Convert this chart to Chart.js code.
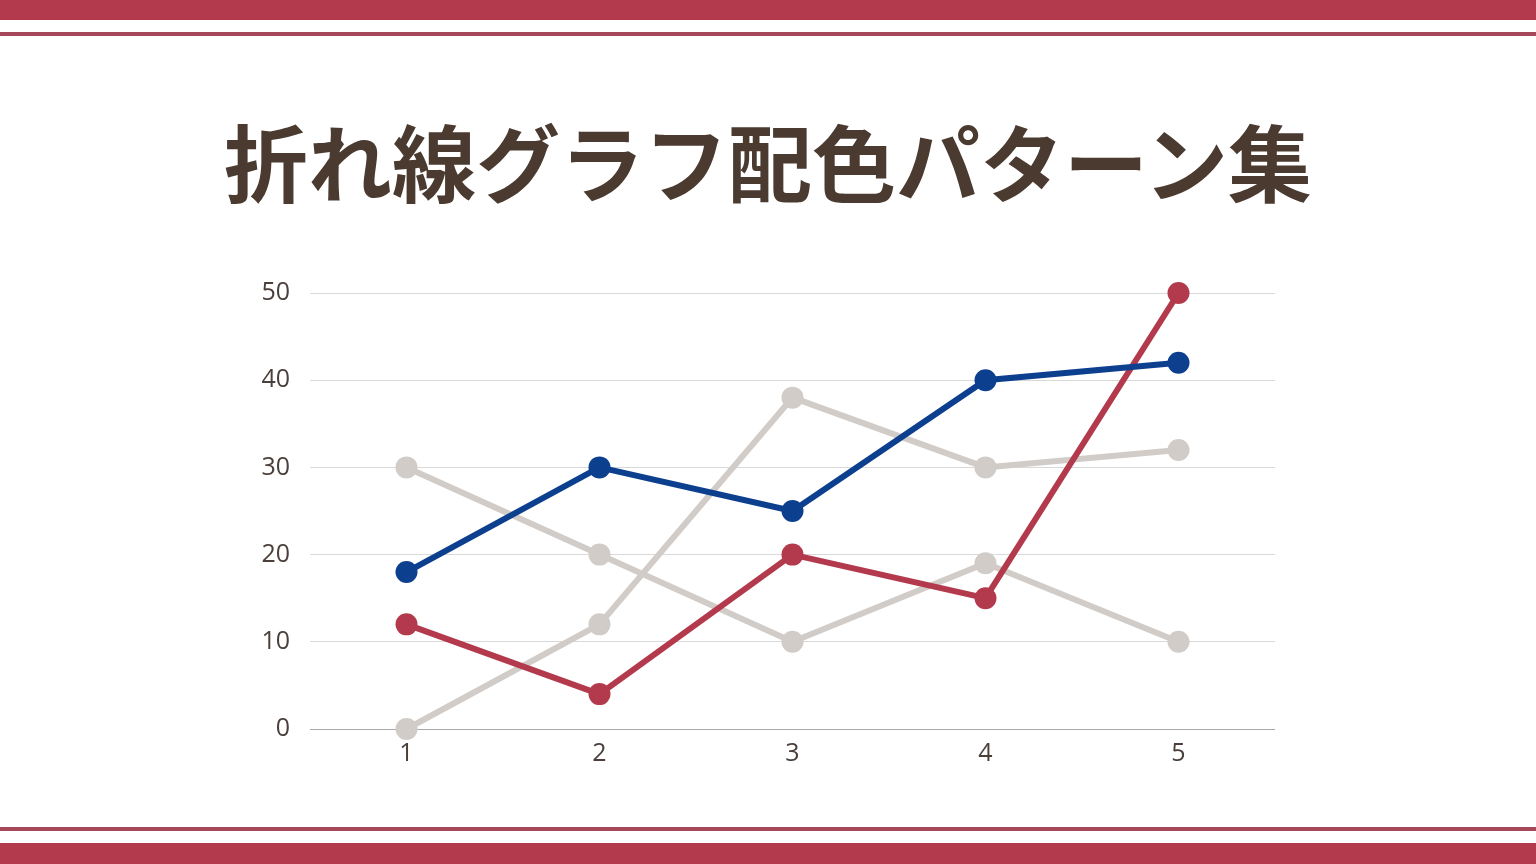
<!DOCTYPE html>
<html lang="ja">
<head>
<meta charset="utf-8">
<script src="https://cdn.jsdelivr.net/npm/chart.js@4"></script>
<style>
  html, body { margin:0; padding:0; width:1536px; height:864px; background:#ffffff; overflow:hidden; }
  .band { position:absolute; left:0; width:1536px; background:#b33a4c; }
  .thin { position:absolute; left:0; width:1536px; background:#a6475a; }
  #title { position:absolute; left:0; width:1536px; top:105px; text-align:center;
           font-family:"Noto Sans CJK JP", sans-serif; font-weight:700; font-size:84px;
           color:#4b3a2f; line-height:110px; letter-spacing:0px; white-space:nowrap; }
  #wrap { position:absolute; left:250px; top:258px; width:1025px; height:511px; }
</style>
</head>
<body>
<div class="band" style="top:0;height:20px"></div>
<div class="thin" style="top:32px;height:4px"></div>
<div class="thin" style="top:827px;height:4px"></div>
<div class="band" style="top:843px;height:21px"></div>
<div id="title">折れ線グラフ配色パターン集</div>
<div id="wrap"><canvas id="c"></canvas></div>
<script>
const categories = ['1', '2', '3', '4', '5'];
const blueSeries = [18, 30, 25, 40, 42];
const redSeries  = [12, 4, 20, 15, 50];
const grayA      = [30, 20, 10, 19, 10];
const grayB      = [0, 12, 38, 30, 32];
const yTicks     = [0, 10, 20, 30, 40, 50];

function ds(data, color) {
  return { data, borderColor: color, backgroundColor: color, pointBackgroundColor: color,
           pointBorderColor: color, borderWidth: 6, pointRadius: 11, pointHoverRadius: 11,
           pointBorderWidth: 0, tension: 0, fill: false, clip: false };
}

new Chart(document.getElementById('c'), {
  type: 'line',
  data: {
    labels: categories,
    datasets: [
      ds(blueSeries, '#0d3f8f'),
      ds(redSeries, '#b33a4c'),
      ds(grayA, '#d1ccc7'),
      ds(grayB, '#d1ccc7')
    ]
  },
  options: {
    responsive: true,
    maintainAspectRatio: false,
    animation: false,
    layout: { autoPadding: false, padding: { top: 12, right: 0, left: 0, bottom: 0 } },
    plugins: { legend: { display: false }, tooltip: { enabled: false } },
    scales: {
      x: {
        offset: true,
        grid: { display: false, drawTicks: false },
        border: { display: true, color: '#a8a8a8', width: 1 },
        ticks: { color: '#4a3f3a', padding: 10, font: { family: 'Open Sans', size: 25 } },
        afterFit: s => { s.height = 40; }
      },
      y: {
        min: 0, max: 50,
        afterBuildTicks: s => { s.ticks = yTicks.map(v => ({ value: v })); },
        grid: { color: '#d9d9d9', lineWidth: 1, drawTicks: false },
        border: { display: false },
        ticks: { color: '#4a3f3a', padding: 20, font: { family: 'Open Sans', size: 25 } },
        afterFit: s => { s.width = 60; }
      }
    }
  }
});
</script>
</body>
</html>
